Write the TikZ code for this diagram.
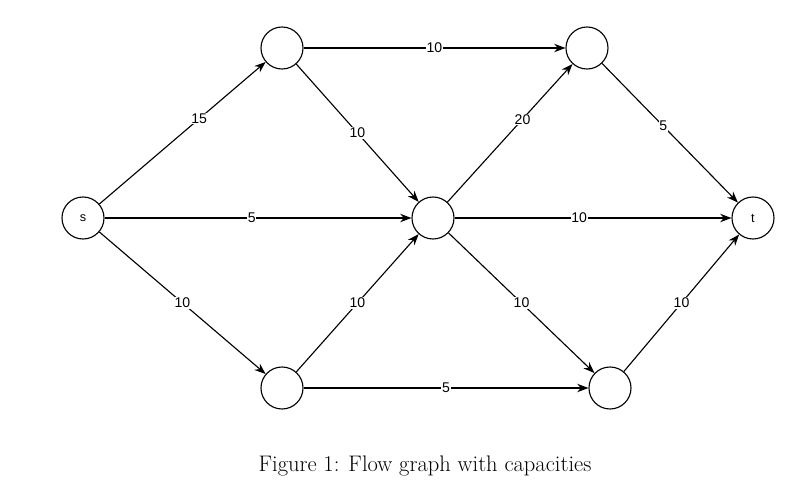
\documentclass[tikz,border=0pt]{standalone}
\usepackage{fontspec}
\newfontfamily\lblfont{Liberation Sans}
\usetikzlibrary{arrows.meta}
\begin{document}
\begin{tikzpicture}[x=0.025cm,y=-0.025cm,
    vertex/.style={circle, draw, thick, minimum size=1.05cm, inner sep=0pt, font=\lblfont\small},
    edge/.style={-{Stealth[length=8pt,width=6pt]}, thick},
    capl/.style={fill=white, inner sep=0.5pt, font=\lblfont\fontsize{10}{12}\selectfont}
]
\useasboundingbox (0,0) rectangle (812,500);
\node[vertex] (s) at (83,218) {s};
\node[vertex] (a) at (282,48) {};
\node[vertex] (b) at (587,48) {};
\node[vertex] (c) at (433,218) {};
\node[vertex] (t) at (753,218) {t};
\node[vertex] (d) at (282,388) {};
\node[vertex] (e) at (610,388) {};

\draw[edge] (s) -- node[capl, pos=0.6] {15} (a);
\draw[edge] (s) -- node[capl, pos=0.48] {5} (c);
\draw[edge] (s) -- node[capl, pos=0.5] {10} (d);
\draw[edge] (a) -- node[capl] {10} (b);
\draw[edge] (a) -- node[capl] {10} (c);
\draw[edge] (c) -- node[capl, pos=0.6] {20} (b);
\draw[edge] (b) -- node[capl, pos=0.45] {5} (t);
\draw[edge] (c) -- node[capl, pos=0.45] {10} (t);
\draw[edge] (d) -- node[capl] {10} (c);
\draw[edge] (c) -- node[capl] {10} (e);
\draw[edge] (e) -- node[capl] {10} (t);
\draw[edge] (d) -- node[capl] {5} (e);

\node[font=\fontsize{16}{19}\selectfont] (caption) at (425,466) {Figure 1: Flow graph with capacities};
\end{tikzpicture}
\end{document}
